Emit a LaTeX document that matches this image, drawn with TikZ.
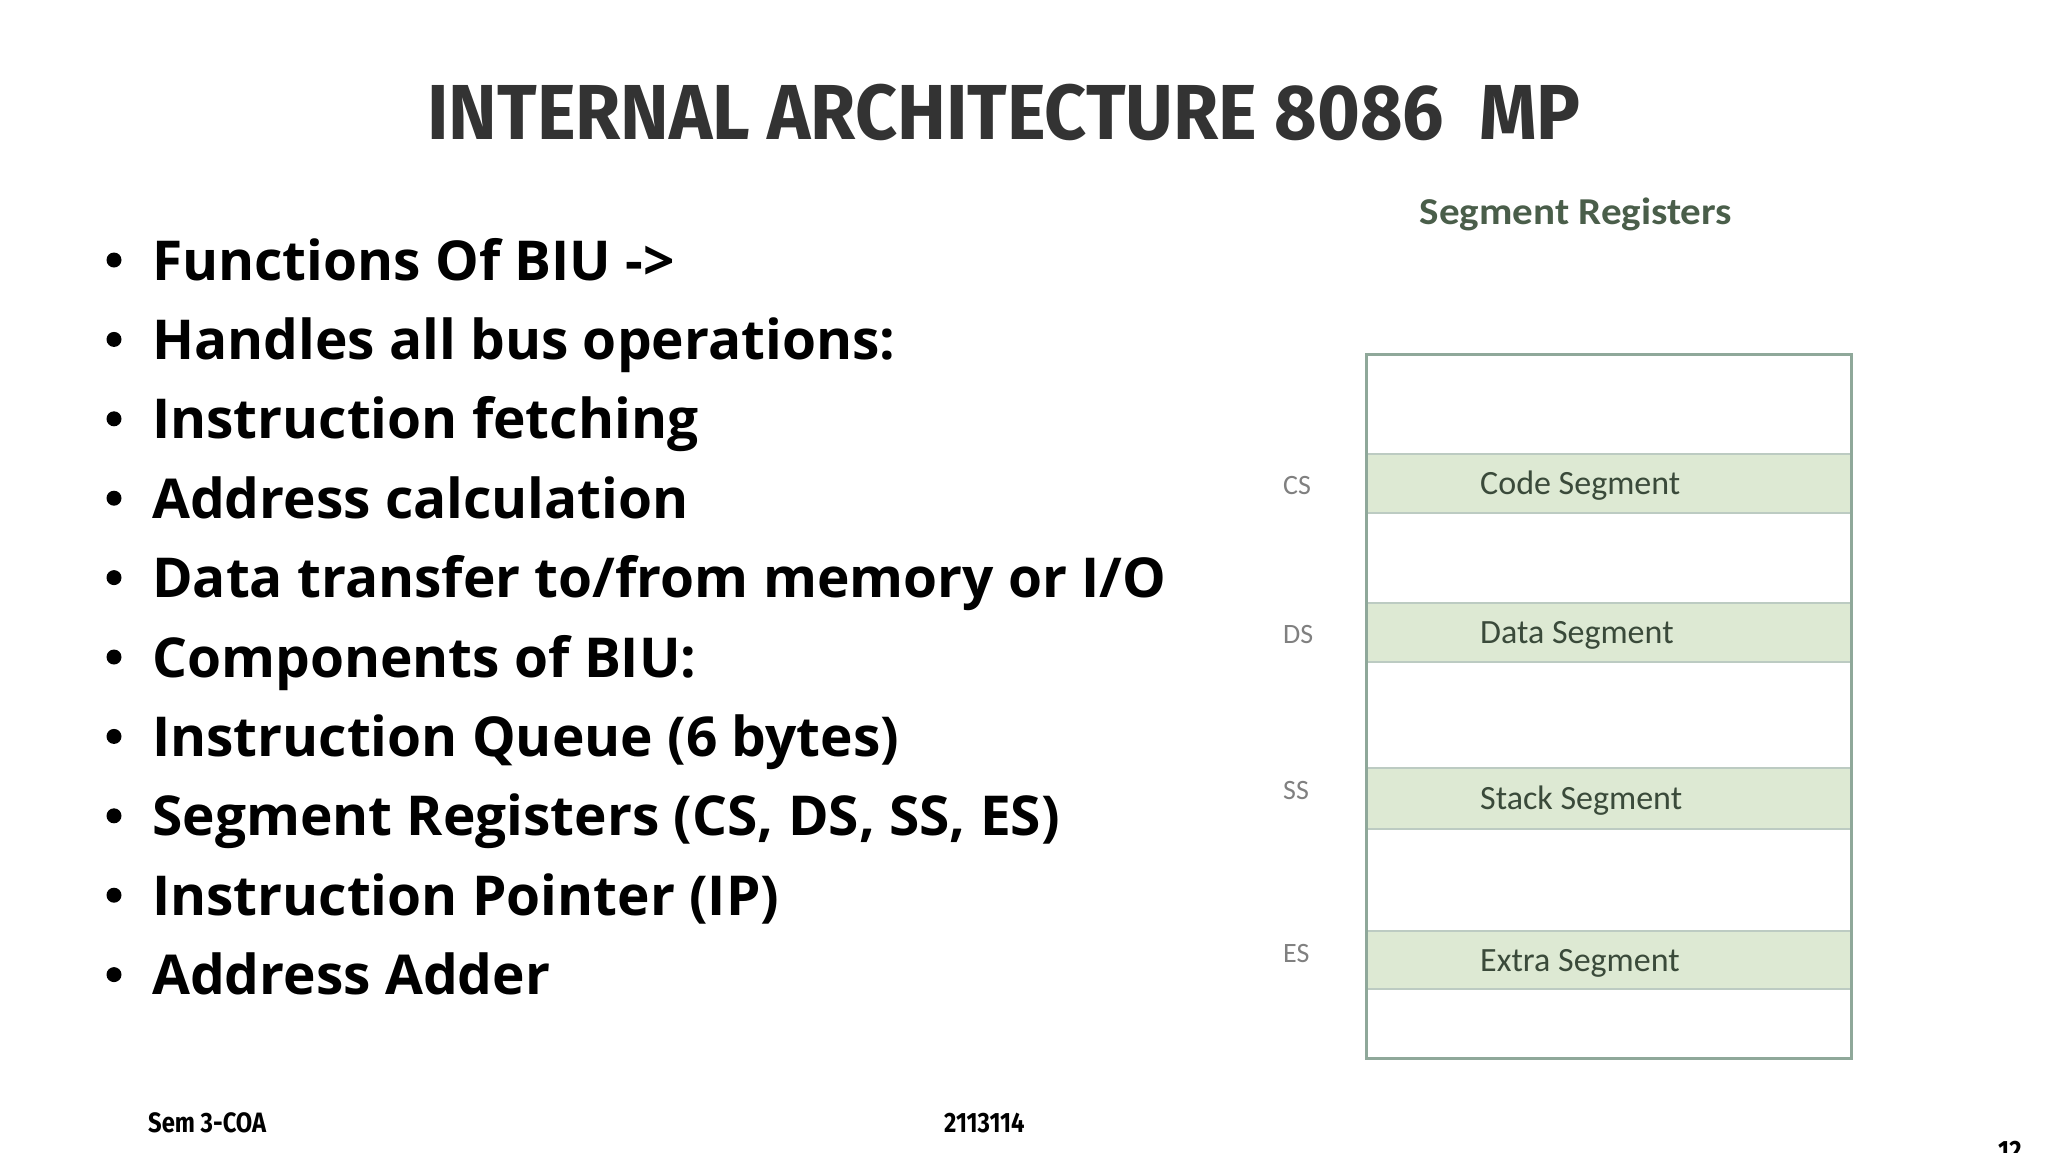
\documentclass[tikz,border=0pt]{standalone}
\usepackage{fontspec}
\setmainfont{Open Sans}
\newfontfamily\condf{Fira Sans}
\newfontfamily\calf{Carlito}
\definecolor{titlec}{HTML}{333333}
\definecolor{band}{HTML}{DDE9D3}
\definecolor{bordc}{HTML}{8FA89A}
\definecolor{labc}{HTML}{3A4A3A}
\definecolor{headc}{HTML}{4A5E4A}
\begin{document}
\begin{tikzpicture}[x=1pt,y=-1pt,
  bul/.style={anchor=base west,font=\fontsize{55}{55}\selectfont\bfseries,text=black,inner sep=0},
  seg/.style={anchor=base west,font=\calf\fontsize{34}{34}\selectfont,text=labc,inner sep=0},
  reg/.style={anchor=base west,font=\calf\fontsize{28}{28}\selectfont,text=gray,inner sep=0},
  foot/.style={anchor=base west,font=\condf\fontsize{28}{28}\selectfont\bfseries,inner sep=0}]
\useasboundingbox (0,0) rectangle (2048,1152);
\fill[white] (0,0) rectangle (2048,1152);
\node[inner sep=0,text=titlec] (title) at (1004,112) {\scalebox{0.94}[1]{\condf\fontsize{78}{78}\selectfont\bfseries INTERNAL ARCHITECTURE 8086\ \ MP}};
\foreach \t [count=\i from 0] in {Functions Of BIU ->,Handles all bus operations:,Instruction fetching,Address calculation,Data transfer to/from memory or I/O,Components of BIU:,Instruction Queue (6 bytes),{Segment Registers (CS, DS, SS, ES)},Instruction Pointer (IP),Address Adder}{
  \fill (114,260+79.4*\i) circle (7.5);
  \node[bul] (b\i) at (152,280+79.4*\i) {\t};
}
\node[anchor=center,inner sep=0,font=\calf\fontsize{38}{38}\selectfont\bfseries,text=headc] (head) at (1576,214) {\scalebox{1.08}[1]{Segment Registers}};
\fill[band] (1366,454) rectangle (1851,513);
\fill[band] (1366,603) rectangle (1851,662);
\fill[band] (1366,768) rectangle (1851,829);
\fill[band] (1366,931) rectangle (1851,989);
\foreach \a in {454,513,603,662,768,829,931,989} \draw[bordc!60,line width=1.5] (1366,\a) -- (1851,\a);
\draw[bordc,line width=3] (1366,354) rectangle (1851,1058);
\node[seg] (cs) at (1480,494) {Code Segment};
\node[seg] (ds) at (1480,643) {Data Segment};
\node[seg] (ss) at (1480,809) {Stack Segment};
\node[seg] (es) at (1480,971) {Extra Segment};
\node[reg] (lcs) at (1283,494) {CS};
\node[reg] (lds) at (1283,643) {DS};
\node[reg] (lss) at (1283,799) {SS};
\node[reg] (les) at (1283,962) {ES};
\node[foot] (f1) at (148,1132) {\scalebox{0.85}[1]{Sem 3-COA}};
\node[foot] (f2) at (944,1132) {\scalebox{0.85}[1]{2113114}};
\node[foot] (f3) at (1998,1160) {\scalebox{0.85}[1]{12}};
\end{tikzpicture}
\end{document}
